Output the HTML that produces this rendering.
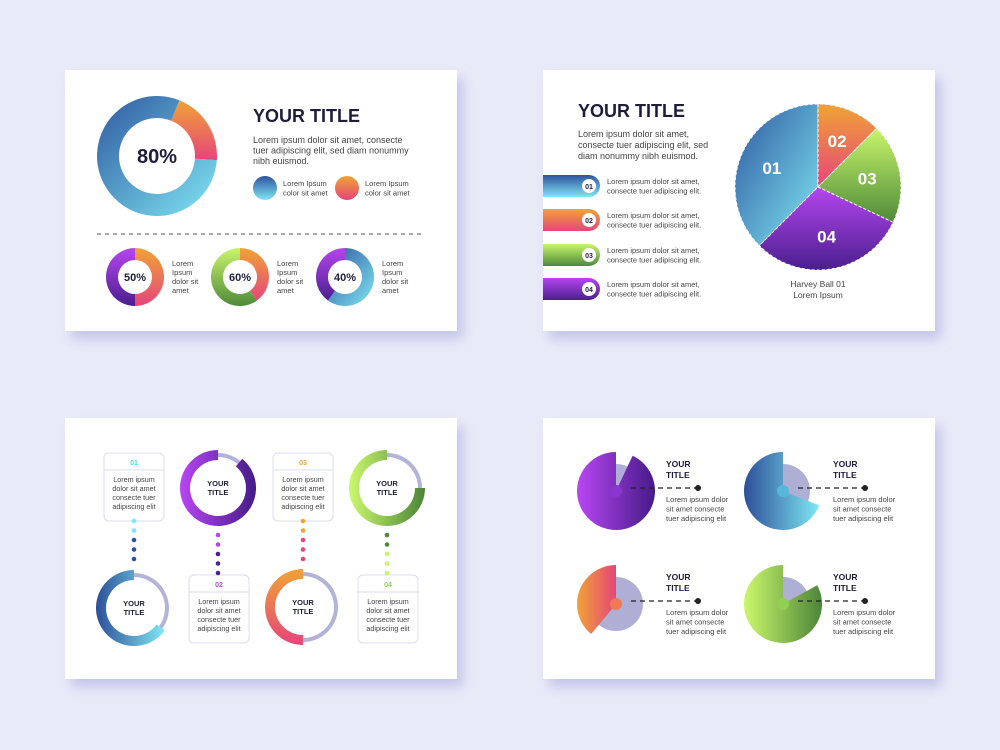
<!DOCTYPE html>
<html><head><meta charset="utf-8"><style>
html,body{margin:0;padding:0;background:#e9eaf8;}
svg{display:block;font-family:"Liberation Sans",sans-serif;}
.t{fill:#444}
.h{fill:#1f1d3a;font-weight:bold}
</style></head><body>
<svg id="s" width="1000" height="750" viewBox="0 0 1000 750">
<defs>
<filter id="sh" x="-10%" y="-10%" width="130%" height="130%"><feDropShadow dx="6" dy="8" stdDeviation="6" flood-color="#b9bbe6" flood-opacity="0.8"/></filter>
<clipPath id="c2"><rect x="543" y="70" width="392" height="261"/></clipPath>
<linearGradient id="gBlue" x1="0" y1="0" x2="1" y2="1"><stop offset="0" stop-color="#2f58a0"/><stop offset="1" stop-color="#7fe6f3"/></linearGradient>
<linearGradient id="gBlueH" x1="0" y1="0" x2="1" y2="0"><stop offset="0" stop-color="#2c4f98"/><stop offset="1" stop-color="#80e8f4"/></linearGradient>
<linearGradient id="gOr" x1="0" y1="0" x2="0" y2="1"><stop offset="0" stop-color="#f0a336"/><stop offset="1" stop-color="#e5457a"/></linearGradient>
<linearGradient id="gOrH" x1="0" y1="0" x2="1" y2="0"><stop offset="0" stop-color="#f0a336"/><stop offset="1" stop-color="#e5457a"/></linearGradient>
<linearGradient id="gPur" x1="0" y1="0" x2="0" y2="1"><stop offset="0" stop-color="#b546ef"/><stop offset="1" stop-color="#4a1f8e"/></linearGradient>
<linearGradient id="gPurH" x1="0" y1="0" x2="1" y2="0"><stop offset="0" stop-color="#b946f2"/><stop offset="1" stop-color="#451b88"/></linearGradient>
<linearGradient id="gGr" x1="0" y1="0" x2="0" y2="1"><stop offset="0" stop-color="#c8f56a"/><stop offset="1" stop-color="#4f8a3a"/></linearGradient>
<linearGradient id="gGrH" x1="0" y1="0" x2="1" y2="0"><stop offset="0" stop-color="#ccf86c"/><stop offset="1" stop-color="#4b8538"/></linearGradient>
<linearGradient id="gPill1" x1="0" y1="0" x2="0" y2="1"><stop offset="0" stop-color="#2f52a0"/><stop offset="1" stop-color="#7fe6f3"/></linearGradient>
</defs>
<g filter="url(#sh)">
<rect x="65" y="70" width="392" height="261" fill="#fff"/>
<rect x="543" y="70" width="392" height="261" fill="#fff"/>
<rect x="65" y="418" width="392" height="261" fill="#fff"/>
<rect x="543" y="418" width="392" height="261" fill="#fff"/>
</g>
<g id="p1"></g><g id="p2"></g><g id="p3"></g><g id="p4"></g>
</svg>
<script>
// data
const bigDonutPct = [80];
const smallDonutLabels = ["50%","60%","40%"];
const smallDonutSplit = [50, 60, 40];
const pieCategories = ["01","02","03","04"];
const pieValues = [37.5, 12.5, 19.5, 30.5];
const ringGreyPct = [11, 35, 50, 25];
const harveyPct = [93, 69, 39, 83];

const NS="http://www.w3.org/2000/svg";
function mk(parent,tag,attrs,text){const e=document.createElementNS(NS,tag);for(const k in attrs)e.setAttribute(k,attrs[k]);if(text!==undefined)e.textContent=text;parent.appendChild(e);return e;}
function pt(cx,cy,r,deg){const a=(deg-90)*Math.PI/180;return [cx+r*Math.cos(a),cy+r*Math.sin(a)];}
function arcPath(cx,cy,ro,ri,a0,a1){const L=(a1-a0)>180?1:0;const p1=pt(cx,cy,ro,a0),p2=pt(cx,cy,ro,a1);
 if(ri<=0)return `M${cx},${cy}L${p1}A${ro},${ro} 0 ${L} 1 ${p2}Z`;
 const p3=pt(cx,cy,ri,a1),p4=pt(cx,cy,ri,a0);return `M${p1}A${ro},${ro} 0 ${L} 1 ${p2}L${p3}A${ri},${ri} 0 ${L} 0 ${p4}Z`;}
function lines(g,x,y,arr,dy,cls,anchor){arr.forEach((s,i)=>{mk(g,'text',{x:x,y:y+i*dy,class:cls||'t','text-anchor':anchor||'start','font-size':9},s);});}

// Panel 1
const p1=document.getElementById('p1');
{const a=(100-bigDonutPct[0])/100*360;
 const blue=mk(p1,'path',{d:arcPath(157,156,60,38,22+a,382),fill:'url(#gBlue)'});
 
 
 const or=mk(p1,'path',{d:arcPath(157,156,60,38,22,22+a),fill:'url(#gOr)'});
 
 
 const t=mk(p1,'text',{x:157,y:163,'text-anchor':'middle',class:'h','font-size':20},bigDonutPct[0]+'%');
 
 }
mk(p1,'text',{x:253,y:122,class:'h','font-size':18,},'YOUR TITLE');
lines(p1,253,143,['Lorem ipsum dolor sit amet, consecte','tuer adipiscing elit, sed diam nonummy','nibh euismod.'],10.5,'t');
mk(p1,'circle',{cx:265,cy:188,r:12,fill:'url(#gPill1)',});
mk(p1,'circle',{cx:347,cy:188,r:12,fill:'url(#gOr)',});
lines(p1,283,186,['Lorem Ipsum','color sit amet'],9.5,'t');lines(p1,365,186,['Lorem Ipsum','color sit amet'],9.5,'t');
[...p1.querySelectorAll('text')].forEach(t=>{if(t.getAttribute('y')>180&&t.getAttribute('y')<200)t.setAttribute('font-size','7.5');});
mk(p1,'line',{x1:97,y1:234,x2:421,y2:234,stroke:'#555','stroke-dasharray':'4 4',});
const sd=[{cx:135,a:'url(#gOr)',b:'url(#gPur)'},{cx:240,a:'url(#gOr)',b:'url(#gGr)'},{cx:345,a:'url(#gBlue)',b:'url(#gPur)'}];
sd.forEach((d,i)=>{const cut=(100-smallDonutSplit[i])/100*360;
 const s1=mk(p1,'path',{d:arcPath(d.cx,277,29,17,0,cut),fill:d.a});
 
 
 const s2=mk(p1,'path',{d:arcPath(d.cx,277,29,17,cut,360),fill:d.b});
 
 
 mk(p1,'text',{x:d.cx,y:281,'text-anchor':'middle',class:'h','font-size':11},smallDonutLabels[i]);
 lines(p1,d.cx+37,266,['Lorem','Ipsum','dolor sit','amet'],9,'t');});
[...p1.querySelectorAll('text')].forEach(t=>{if(+t.getAttribute('y')>260&&!t.classList.contains('h'))t.setAttribute('font-size','7.5');});

// Panel 2
const p2=document.getElementById('p2');
mk(p2,'text',{x:578,y:117,class:'h','font-size':18,},'YOUR TITLE');
lines(p2,578,137,['Lorem ipsum dolor sit amet,','consecte tuer adipiscing elit, sed','diam nonummy nibh euismod.'],11,'t');
const pillG=mk(p2,'g',{'clip-path':'url(#c2)'});
const pillFill=['url(#gPill1)','url(#gOr)','url(#gGr)','url(#gPur)'];
[186,220,255,289].forEach((y,i)=>{const r=mk(pillG,'rect',{x:520,y:y-11,width:80,height:22,rx:11,fill:pillFill[i]});
 
 
 mk(p2,'circle',{cx:589,cy:y,r:7,fill:'#fff'});
 mk(p2,'text',{x:589,y:y+3,'text-anchor':'middle',class:'h','font-size':7},pieCategories[i]);
 lines(p2,607,y-2,['Lorem ipsum dolor sit amet,','consecte tuer adipiscing elit.'],9.5,'t');});
[...p2.querySelectorAll('text')].forEach(t=>{if(+t.getAttribute('y')>175&&!t.classList.contains('h'))t.setAttribute('font-size','7.5');});
const pieFill=['url(#gBlue)','url(#gOr)','url(#gGr)','url(#gPur)'];
const total=pieValues.reduce((a,b)=>a+b,0);let acc=-135;
pieValues.forEach((v,i)=>{const a0=acc,a1=acc+v/total*360;acc=a1;
 const p=mk(p2,'path',{d:arcPath(818,187,83,0,a0,a1),fill:pieFill[i],stroke:'#fff','stroke-width':1,'stroke-dasharray':'3 2'});
 
 
 const m=pt(818,187,50,(a0+a1)/2);
 mk(p2,'text',{x:m[0],y:m[1]+6,'text-anchor':'middle',fill:'#fff','font-weight':'bold','font-size':17},pieCategories[i]);});
const capG=mk(p2,'g',{});
lines(capG,818,287,['Harvey Ball 01','Lorem Ipsum'],11,'t','middle');
[...capG.querySelectorAll('text')].forEach(t=>t.setAttribute('font-size','8.5'));

// Panel 3
const p3=document.getElementById('p3');
const boxes=[[104,453,'01','#4ed3e0'],[189,575,'02','#b545e8'],[273,453,'03','#f0a336'],[358,575,'04','#8bd34a']];
boxes.forEach((b,i)=>{mk(p3,'rect',{x:b[0],y:b[1],width:60,height:68,rx:5,fill:'#fff',stroke:'#dcdcec',});
 mk(p3,'line',{x1:b[0],y1:b[1]+17,x2:b[0]+60,y2:b[1]+17,stroke:'#dcdcec'});
 mk(p3,'text',{x:b[0]+30,y:b[1]+12,'text-anchor':'middle','font-weight':'bold','font-size':7,fill:b[3]},b[2]);
 lines(p3,b[0]+30,b[1]+29,['Lorem ipsum','dolor sit amet','consecte tuer','adipiscing elit'],9,'t','middle');});
[...p3.querySelectorAll('text.t')].forEach(t=>t.setAttribute('font-size','7.2'));
const rings=[[218,488,'url(#gPurH)',['#b546ef','#4a1f8e'],535],[134,608,'url(#gBlueH)',['#2f52a0','#7fe6f3'],521],[303,607,'url(#gOr)',['#f0a336','#e5457a'],521],[387,488,'url(#gGrH)',['#c8f56a','#4f8a3a'],535]];
const ringName=['ring-purple','ring-blue','ring-orange','ring-green'];
rings.forEach((r,i)=>{const g=ringGreyPct[i]/100*360;
 mk(p3,'path',{d:arcPath(r[0],r[1],35,31,0,g),fill:'#b3b3d8'});
 const c=mk(p3,'path',{d:arcPath(r[0],r[1],38,28,g,360),fill:r[2]});
 
 
 lines(p3,r[0],r[1]-2,['YOUR','TITLE'],9,'h','middle');
 for(let k=0;k<5;k++){const col=k<2?r[3][i%2?1:0]:r[3][i%2?0:1];
  mk(p3,'circle',{cx:r[0],cy:r[4]+k*9.5,r:2.3,fill:col});}});
[...p3.querySelectorAll('text.h')].forEach(t=>t.setAttribute('font-size','7.5'));

// Panel 4
const p4=document.getElementById('p4');
const hb=[[616,491,'url(#gPurH)','#8a35d0'],[783,491,'url(#gBlueH)','#56b8d8'],[616,604,'url(#gOrH)','#f07a55'],[783,604,'url(#gGrH)','#8fd050']];
hb.forEach((h,i)=>{const cx=h[0],cy=h[1];
 mk(p4,'circle',{cx:cx,cy:cy,r:27,fill:'#afafd6'});
 const a0=360-harveyPct[i]/100*360;
 const s=mk(p4,'path',{d:arcPath(cx,cy,39,0,a0,360),fill:h[2]});
 
 
 mk(p4,'circle',{cx:cx,cy:cy,r:6,fill:h[3]});
 mk(p4,'line',{x1:cx+15,y1:cy-3,x2:cx+80,y2:cy-3,stroke:'#222','stroke-width':1.3,'stroke-dasharray':'5 4'});
 mk(p4,'circle',{cx:cx+82,cy:cy-3,r:3,fill:'#222'});
 lines(p4,cx+50,cy-24,['YOUR','TITLE'],11,'h','start');
 lines(p4,cx+50,cy+11,['Lorem ipsum dolor','sit amet consecte','tuer adipiscing elit'],9.5,'t');});
[...p4.querySelectorAll('text.h')].forEach(t=>t.setAttribute('font-size','8.5'));
[...p4.querySelectorAll('text.t')].forEach(t=>t.setAttribute('font-size','7.5'));
</script>
</body></html>
